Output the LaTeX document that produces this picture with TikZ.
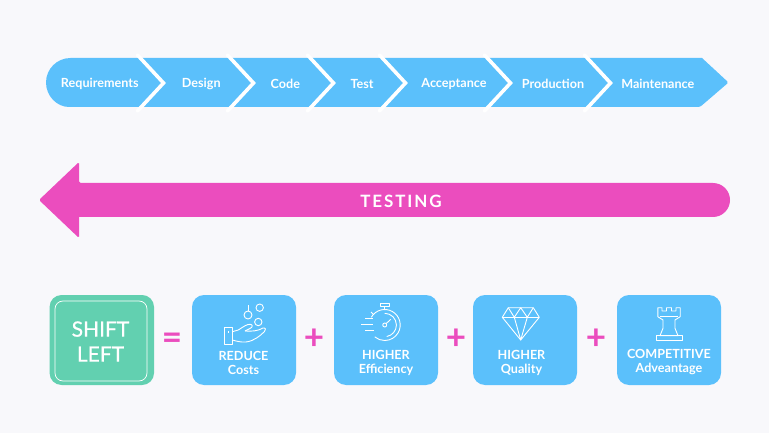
\documentclass[tikz,border=0pt]{standalone}
\usepackage{fontspec}
\setmainfont{Lato}
\newfontfamily\shiftfont[FakeBold=0.7]{Lato}
\definecolor{pagebg}{HTML}{F8F8FB}
\definecolor{skyblue}{HTML}{5BC0FB}
\definecolor{testpink}{HTML}{EB4DBE}
\definecolor{shiftgreen}{HTML}{62D0B0}
\tikzset{
	notch/.style={white, line width=3.6pt, line cap=round, line join=miter},
	steptext/.style={white, font=\fontsize{12.6}{14}\selectfont\bfseries, inner sep=0pt},
	tile/.style={fill=skyblue, rounded corners=12pt, minimum width=104pt, minimum height=90pt, inner sep=0pt},
	tiletext/.style={white, font=\fontsize{12.6}{14}\selectfont\bfseries, align=center, inner sep=0pt},
	glyph/.style={white, line width=0.9pt, line join=round},
	opsign/.style={testpink, font=\fontsize{35}{35}\selectfont\bfseries, inner sep=0pt}
}

\begin{document}
\begin{tikzpicture}[x=1pt, y=-1pt]
	\fill [pagebg] (0,0) rectangle (769,433);
	\useasboundingbox (0,0) rectangle (769,433);

	% top band
	\fill [skyblue, rounded corners=1.5pt] (702,58) -- (728.5,82.5) -- (700,107) -- (70.5,107) [sharp corners] arc [start angle=90, end angle=270, radius=24.5] -- cycle;
	\draw [notch] (137.5,55) -- (163.5,83) -- (137.5,111);
	\draw [notch] (227.5,55) -- (253.5,83) -- (227.5,111);
	\draw [notch] (307.5,55) -- (333.5,83) -- (307.5,111);
	\draw [notch] (379.5,55) -- (405.5,83) -- (379.5,111);
	\draw [notch] (484.5,55) -- (510.5,83) -- (484.5,111);
	\draw [notch] (584.5,55) -- (610.5,83) -- (584.5,111);
	\node [steptext] (requirements) at (99.8,83.6) {Requirements};
	\node [steptext] (design) at (201.3,83.6) {Design};
	\node [steptext] (code) at (285.3,83.6) {Code};
	\node [steptext] (test) at (362,83.6) {Test};
	\node [steptext] (acceptance) at (454,83.6) {Acceptance};
	\node [steptext] (production) at (553,83.6) {Production};
	\node [steptext] (maintenance) at (657.8,83.6) {Maintenance};

	% testing arrow
	\fill [testpink, rounded corners=1.5pt] (39,200) -- (79,162) -- (79,183) [sharp corners] -- (713,183) arc [start angle=270, end angle=450, radius=17] -- (79,217) [rounded corners=1.5pt] -- (79,238) -- cycle;
	\node [white, font=\fontsize{17}{20}\selectfont\bfseries\addfontfeatures{LetterSpace=11}] (testing) at (401,201) {TESTING};

	% bottom row
	\node [fill=shiftgreen, rounded corners=12pt, minimum width=104.5pt, minimum height=90pt, inner sep=0pt] (shiftbox) at (101.8,340) {};
	\draw [white, line width=0.7pt, rounded corners=8pt] (55,301) rectangle (147,381);
	\node [white, font=\fontsize{21}{25}\selectfont\shiftfont, align=center, inner sep=0pt] (shiftleft) at (100.5,341.5) {SHIFT\\LEFT};

	\node [opsign] (equals) at (172,341) {=};
	\node [opsign] (plusa) at (314,339) {+};
	\node [opsign] (plusb) at (456,339) {+};
	\node [opsign] (plusc) at (596,339) {+};

	\node [tile] (costs) at (244,340) {};
	\node [tile] (efficiency) at (386,340) {};
	\node [tile] (quality) at (525,340) {};
	\node [tile] (advantage) at (669,340) {};
	\node [tiletext] (coststext) at (243.5,362.5) {REDUCE\\Costs};
	\node [tiletext] (efficiencytext) at (386,362.5) {HIGHER\\Efficiency};
	\node [tiletext] (qualitytext) at (521.5,362.5) {HIGHER\\Quality};
	\node [tiletext] (advantagetext) at (669,362.5) {COMPETITIVE\\Adveantage};

	% hand and coins
	\draw [glyph] (232.3,327.7) rectangle (224.3,344);
	\draw [glyph] (228.5,331) -- (228.5,333);
	\draw [glyph] (232.3,331.7) -- (238.3,330) .. controls (243,327) and (247,324) .. (250,324.3) .. controls (253,324.5) and (253,327) .. (250,328.5) -- (245,331);
	\draw [glyph] (245,331) .. controls (252,331.5) and (258,331) .. (263,328) .. controls (266,327.5) and (266,330) .. (264.5,331.5) .. controls (260,336) and (254,341) .. (246,342) .. controls (241,342.5) and (236,341) .. (232.3,340);
	\draw [glyph] (248,315) circle [radius=4];
	\draw [glyph] (248,305) -- (248,311);
	\draw [glyph] (259.7,307.7) circle [radius=3.7];
	\draw [glyph] (258.3,322) circle [radius=3.7];

	% stopwatch
	\draw [glyph] (371.3,317.25) arc [start angle=-150, end angle=130, radius=15.5];
	\draw [glyph] (384.7,313.3) arc [start angle=-90, end angle=80, radius=11.7];
	\draw [glyph] (384.7,325) circle [radius=2];
	\draw [glyph] (386.2,323.6) -- (390.7,319.3);
	\draw [glyph] (380.7,303.3) rectangle (389.3,306.7);
	\draw [glyph] (384.7,306.7) -- (384.7,309.5);
	\draw [glyph] (371,312) -- (373.5,314.5);
	\draw [glyph] (365,318.3) -- (372.7,318.3);
	\draw [glyph] (361,324.3) -- (372.7,324.3);
	\draw [glyph] (365,330.7) -- (374,330.7);

	% diamond
	\draw [glyph] (508.3,307.7) -- (533.3,307.7) -- (539.3,317.3) -- (520.7,340) -- (502.3,317.3) -- cycle;
	\draw [glyph] (502.3,317.3) -- (539.3,317.3);
	\draw [glyph] (508.3,307.7) -- (514.3,317.3) -- (520.7,307.7) -- (527.3,317.3) -- (533.3,307.7);
	\draw [glyph] (514.3,317.3) -- (520.7,340) -- (527.3,317.3);

	% rook
	\draw [glyph] (657.8,307.7) -- (662,307.7) -- (662,311) -- (666.5,311) -- (666.5,307.7) -- (671.5,307.7) -- (671.5,311) -- (676,311) -- (676,307.7) -- (680.2,307.7) -- (680.2,316.7) -- (675,320) -- (675,328.3) -- (678,335.7) -- (660,335.7) -- (663,328.3) -- (663,320) -- (657.8,316.7) -- cycle;
	\draw [glyph] (656,335.7) rectangle (682,340);
	\draw [glyph] (660,316.7) -- (678,316.7);
\end{tikzpicture}
\end{document}
